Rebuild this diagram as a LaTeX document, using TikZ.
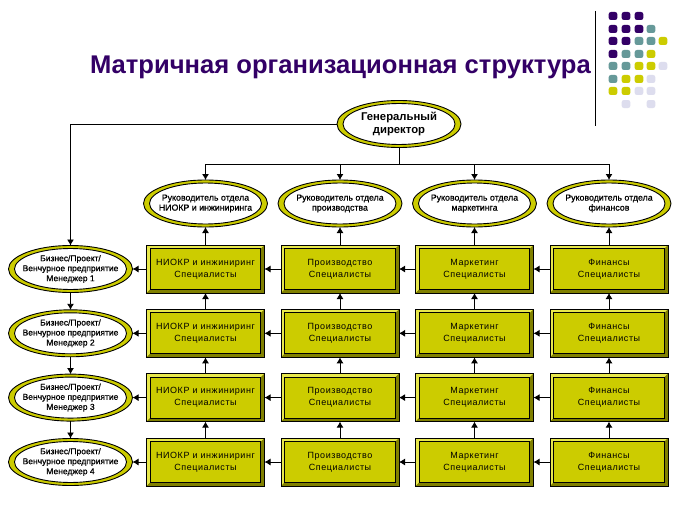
\documentclass[tikz,border=0pt]{standalone}
\usepackage{fontspec}
\setmainfont{Liberation Sans}
\newfontfamily\boxfont[LetterSpace=6]{Liberation Sans}
\newfontfamily\ellfont[FakeBold=0.8]{Liberation Sans}
\usetikzlibrary{shapes.geometric,arrows.meta}
\definecolor{olv}{HTML}{CCCC00}
\definecolor{olvlight}{HTML}{E8E84C}
\definecolor{olvdark}{HTML}{808000}
\definecolor{prp}{HTML}{330066}
\definecolor{tealc}{HTML}{669999}
\definecolor{lav}{HTML}{DDDDEE}
\tikzset{
  x=1pt,y=-1pt,
  every node/.style={inner sep=0pt,outer sep=0pt},
  link/.style={draw=black,line width=0.9pt},
  arr/.style={link,-{Latex[length=6pt,width=7pt]}},
  unit/.style={rectangle,draw=black,line width=0.9pt,fill=olv,minimum width=118pt,minimum height=48pt,
    align=center,font=\boxfont\fontsize{9}{12}\selectfont,
    path picture={
      \coordinate (sw) at (path picture bounding box.south west);
      \coordinate (ne) at (path picture bounding box.north east);
      \coordinate (nw) at (path picture bounding box.north west);
      \coordinate (se) at (path picture bounding box.south east);
      \fill[olvlight] (nw) -- (ne) -- ([shift={(-3.6pt,-3.6pt)}]ne) -- ([shift={(3.6pt,-3.6pt)}]nw) -- cycle;
      \fill[olvlight] (nw) -- (sw) -- ([shift={(3.6pt,3.6pt)}]sw) -- ([shift={(3.6pt,-3.6pt)}]nw) -- cycle;
      \fill[olvdark] (se) -- (ne) -- ([shift={(-3.6pt,-3.6pt)}]ne) -- ([shift={(-3.6pt,3.6pt)}]se) -- cycle;
      \fill[olvdark] (se) -- (sw) -- ([shift={(3.6pt,3.6pt)}]sw) -- ([shift={(-3.6pt,3.6pt)}]se) -- cycle;
      \draw[line width=0.9pt] ([shift={(3.6pt,3.6pt)}]sw) rectangle ([shift={(-3.6pt,-3.6pt)}]ne);
    }},
  oval/.style={ellipse,draw=black,line width=0.9pt,fill=olv,inner sep=-45pt,minimum width=124pt,minimum height=47pt,align=center,
    path picture={
      \draw[line width=0.9pt,fill=white] (path picture bounding box.center) ellipse [x radius=56pt,y radius=20.5pt];
    }},
  deptoval/.style={oval,font=\ellfont\fontsize{8.8}{10}\selectfont},
  mgroval/.style={oval,font=\ellfont\fontsize{8.5}{10}\selectfont},
  ceooval/.style={oval,font=\fontsize{11.3}{13.5}\selectfont\bfseries}
}
\begin{document}
\begin{tikzpicture}
\useasboundingbox (0,0) rectangle (683,511);
\fill[white] (0,0) rectangle (683,511);
% decorative dots
\foreach \x/\y/\c in {613/16/prp,626/16/prp,639/16/prp,
 613/29/prp,626/29/prp,639/29/prp,651/29/tealc,
 613/41/prp,626/41/prp,639/41/tealc,651/41/tealc,663/41/olv,
 613/54/prp,626/54/tealc,639/54/tealc,651/54/olv,
 613/66/tealc,626/66/tealc,639/66/olv,651/66/olv,663/66/lav,
 613/79/tealc,626/79/olv,639/79/olv,651/79/lav,
 613/91/olv,626/91/olv,639/91/lav,651/91/lav,
 626/104/lav,651/104/lav}{
  \fill[\c,rounded corners=2.2pt] (\x-4.3,\y-4) rectangle (\x+4.3,\y+4);
}
\coordinate (ruleA) at (595.5,11);
\coordinate (ruleB) at (595.5,126);
\draw[link] (ruleA) -- (ruleB);
\node[anchor=base west,font=\fontsize{25.6}{28}\selectfont\bfseries,text=prp] (title) at (90,74) {Матричная организационная структура};
% CEO
\node[ceooval] (ceo) at (399,124) {Генеральный\\директор};
% department heads
\node[deptoval] (h1) at (205.5,203.5) {Руководитель отдела\\НИОКР и инжиниринга};
\node[deptoval] (h2) at (340,203.5) {Руководитель отдела\\производства};
\node[deptoval] (h3) at (474.5,203.5) {Руководитель отдела\\маркетинга};
\node[deptoval] (h4) at (609,203.5) {Руководитель отдела\\финансов};
% units and managers
\foreach \r/\yy in {1/269,2/333.3,3/397.6,4/462}{
  \node[unit] (a\r) at (205.5,\yy) {НИОКР и инжиниринг\\Специалисты};
  \node[unit] (b\r) at (340,\yy) {Производство\\Специалисты};
  \node[unit] (c\r) at (474.5,\yy) {Маркетинг\\Специалисты};
  \node[unit] (d\r) at (609,\yy) {Финансы\\Специалисты};
  \node[mgroval] (m\r) at (70.5,\yy) {Бизнес/Проект/\\Венчурное предприятие\\Менеджер \r};
  \draw[arr] (d\r) -- (c\r);
  \draw[arr] (c\r) -- (b\r);
  \draw[arr] (b\r) -- (a\r);
  \draw[arr] (a\r) -- (m\r);
}
\foreach \c/\k in {a/1,b/2,c/3,d/4}{
  \draw[arr] (\c1) -- (h\k);
  \draw[arr] (\c2) -- (\c1);
  \draw[arr] (\c3) -- (\c2);
  \draw[arr] (\c4) -- (\c3);
}
\draw[arr] (m1) -- (m2);
\draw[arr] (m2) -- (m3);
\draw[arr] (m3) -- (m4);
% bus
\coordinate (bus) at (399,164);
\coordinate (busL) at (205.5,164);
\coordinate (busR) at (609,164);
\draw[link] (ceo) -- (bus);
\draw[link] (busL) -- (busR);
\foreach \k in {1,2,3,4}{
  \draw[arr] (h\k |- bus) -- (h\k);
}
\coordinate (corner) at (70.5,124);
\draw[arr] (ceo.west) -- (corner) -- (m1);
\end{tikzpicture}
\end{document}
